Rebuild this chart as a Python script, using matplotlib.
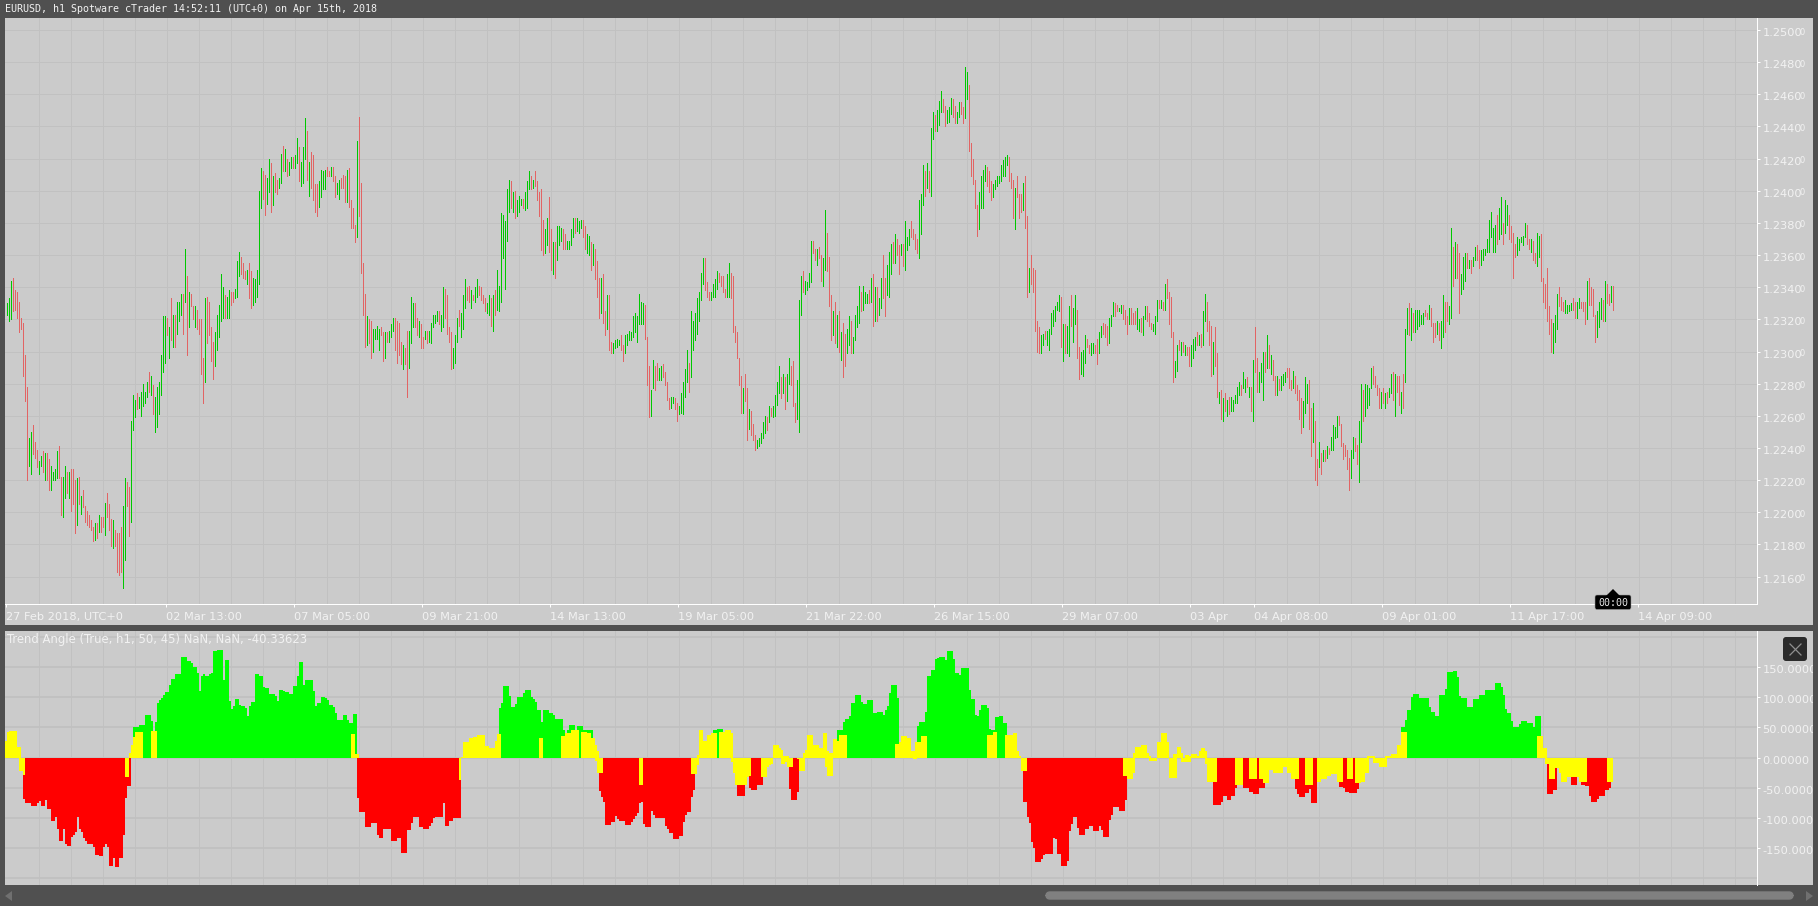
import numpy as np
import matplotlib
matplotlib.use("Agg")
import matplotlib.pyplot as plt
from matplotlib.patches import Rectangle, FancyBboxPatch, Polygon
from matplotlib.transforms import ScaledTranslation

# -------------------------
# Data
# -------------------------
# EURUSD h1 bars, highs and lows in pips above 1.2000
highs = [
    330,333,344,346,338,337,331,321,318,298, 278,246,250,254,244,239,232,235,238,237,
    237,233,229,225,227,238,241,222,222,229, 225,225,227,227,220,221,222,210,214,204,
    201,198,195,191,193,193,198,197,197,206, 212,205,196,195,189,187,187,191,204,221,
    219,216,257,273,270,274,272,275,280,275, 281,287,285,279,272,278,281,298,322,322,
    321,315,333,323,323,331,331,336,336,364, 347,337,336,328,328,326,320,320,296,333,
    334,331,315,306,312,323,329,348,340,335, 334,338,337,337,339,356,362,359,355,350,
    351,355,350,346,345,351,400,414,412,410, 408,420,417,409,411,407,408,423,428,426,
    420,418,421,421,422,433,427,418,427,445, 437,418,424,422,404,404,406,413,412,413,
    415,412,415,415,409,405,407,408,410,409, 413,414,394,389,379,431,446,405,355,336,
    322,320,319,314,314,316,314,315,312,312, 312,313,317,321,321,319,318,306,304,302,
    313,313,334,330,330,321,319,317,309,313, 313,313,318,323,323,325,325,323,340,339,
    335,315,312,302,310,321,326,324,335,345, 340,341,338,335,340,345,341,340,335,333,
    330,335,333,335,338,351,341,386,385,381, 401,407,406,399,400,394,397,395,395,399,
    406,412,409,407,412,406,399,401,382,376, 383,396,376,368,368,378,378,377,376,373,
    369,369,376,383,383,383,381,382,382,378, 373,372,368,367,364,356,346,346,348,325,
    335,335,306,305,307,308,307,310,304,310, 311,313,312,322,324,322,336,331,330,329,
    309,291,276,295,291,293,290,291,292,287, 281,271,272,272,271,268,266,274,281,289,
    301,293,325,319,324,333,337,349,358,358, 343,337,337,342,345,350,349,347,347,339,
    348,355,349,347,316,312,296,285,277,286, 277,264,263,255,248,245,246,249,256,260,
    259,266,265,266,273,281,291,284,286,284, 286,296,291,294,268,282,332,347,350,344,
    343,349,369,369,364,364,365,360,358,388, 374,359,335,325,331,323,325,312,318,311,
    314,322,319,309,323,328,341,337,341,337, 336,338,346,348,340,340,333,346,360,346,
    354,362,367,368,373,370,366,367,367,381, 371,376,381,376,373,370,394,398,416,412,
    417,412,439,449,447,450,456,462,457,453, 450,452,458,457,453,449,455,455,452,477,
    474,466,430,420,407,391,399,409,413,416, 415,412,406,404,407,409,409,416,419,421,
    422,421,411,407,402,409,398,398,405,409, 384,352,360,352,351,319,315,310,311,313,
    313,314,324,326,328,331,335,334,317,317, 316,328,335,327,335,326,303,300,301,310,
    308,304,305,305,304,308,312,316,318,317, 316,321,323,331,330,329,327,329,329,326,
    322,327,327,324,325,327,320,321,322,328, 328,324,318,317,322,332,332,332,331,342,
    345,337,334,312,294,304,307,306,306,304, 303,303,304,308,309,312,310,311,325,336,
    331,319,316,306,315,299,275,276,271,274, 270,272,272,270,273,278,281,279,287,283,
    284,278,278,295,315,296,287,293,300,300, 310,304,298,295,285,285,283,285,286,287,
    290,290,282,288,285,279,276,271,269,284, 280,282,265,268,257,233,244,237,239,239,
    241,240,247,254,253,260,260,255,243,242, 239,234,239,247,246,242,257,280,276,280,
    279,277,290,291,285,279,277,275,277,274, 275,277,286,287,286,285,285,275,286,314,
    327,330,327,324,326,326,326,323,324,326, 324,329,327,318,318,319,318,319,335,331,
    331,328,377,365,368,367,361,348,359,361, 361,357,357,359,365,366,363,363,364,364,
    370,382,387,377,379,385,389,396,380,394, 391,385,378,374,367,371,370,371,372,380,
    379,370,370,369,361,374,372,373,346,342, 352,328,320,318,323,336,340,334,331,332,
    329,329,330,333,331,331,333,331,331,331, 344,346,340,339,323,325,331,333,332,344,
    342,336,341,341,
]
lows = [
    323,319,320,325,326,321,312,314,285,269, 220,229,224,236,234,228,224,229,225,220,
    220,214,214,220,220,221,221,198,197,209, 212,209,201,205,187,192,205,199,203,194,
    192,191,189,182,183,184,188,188,191,186, 197,189,179,178,179,163,161,163,153,170,
    204,185,194,251,259,264,265,260,266,268, 272,275,273,261,250,253,261,273,287,293,
    310,296,307,303,303,311,319,323,311,331, 298,315,328,320,315,314,311,286,268,281,
    305,310,294,283,291,301,309,319,321,321, 321,321,329,331,333,334,347,348,346,345,
    342,333,327,329,331,334,342,389,395,385, 392,399,387,391,399,398,402,405,412,412,
    409,410,414,414,414,417,406,403,405,420, 407,397,402,394,387,384,390,396,401,401,
    409,409,409,406,396,398,395,402,402,393, 393,390,377,377,368,371,384,349,323,303,
    304,305,296,300,308,308,301,310,294,296, 306,306,309,313,301,293,298,292,289,292,
    272,290,305,315,315,310,309,302,302,308, 305,306,305,315,318,319,317,313,315,321,
    311,306,289,290,293,306,316,309,314,327, 332,331,327,332,331,334,335,332,330,325,
    324,323,316,313,323,326,325,331,358,339, 369,387,389,387,383,384,387,391,389,388,
    389,401,401,402,403,394,384,363,360,361, 366,362,351,348,346,357,366,369,364,364,
    364,364,366,371,374,375,374,377,371,364, 361,360,351,354,345,334,321,324,318,310,
    314,301,299,299,302,303,304,301,294,299, 304,307,307,309,312,306,317,317,317,308,
    279,259,260,277,276,282,282,282,284,279, 270,264,265,268,264,257,261,262,261,272,
    281,275,284,301,307,311,319,332,342,338, 334,332,332,334,334,339,343,341,337,334,
    334,334,333,312,306,296,279,262,262,269, 245,252,248,245,239,240,241,243,246,249,
    251,256,260,259,260,267,274,271,274,264, 269,280,279,266,256,258,250,323,337,336,
    338,340,343,361,357,354,358,344,341,351, 350,328,307,310,305,303,300,295,284,291,
    299,304,299,299,307,315,318,325,326,330, 330,330,331,316,319,319,323,327,333,322,
    335,334,348,355,355,360,348,360,353,351, 363,366,371,370,364,361,358,373,391,397,
    402,399,397,432,437,437,441,449,449,440, 442,443,448,446,442,442,446,448,442,445,
    457,425,409,404,389,372,376,389,389,406, 403,399,394,396,401,403,405,406,409,409,
    416,406,402,383,376,396,383,387,388,377, 334,337,342,337,313,300,299,299,304,308,
    304,301,311,316,319,326,325,303,294,299, 299,297,316,306,317,296,283,286,285,293,
    303,299,298,299,299,292,299,309,311,309, 304,305,316,322,322,325,325,324,320,317,
    311,317,317,317,317,314,313,312,310,320, 319,316,314,313,311,319,327,327,326,326,
    333,317,309,281,284,288,301,298,300,298, 298,291,291,296,301,304,304,303,304,319,
    313,304,285,286,291,272,268,258,257,263, 260,261,263,263,268,268,273,273,277,275,
    278,272,263,257,287,275,275,281,270,287, 290,290,286,282,273,273,276,276,279,281,
    284,277,276,277,274,270,258,249,253,262, 268,252,235,244,220,217,228,224,232,232,
    234,236,239,239,246,247,254,241,233,235, 227,214,221,234,238,230,219,244,257,260,
    265,267,277,280,278,273,265,265,268,265, 268,272,274,270,260,275,267,262,265,281,
    311,310,307,312,312,314,316,317,317,322, 320,320,316,306,309,311,307,302,309,312,
    319,317,321,341,346,346,324,336,339,344, 352,352,349,353,357,357,352,354,357,360,
    362,362,371,362,362,367,370,373,367,374, 379,370,368,346,359,360,363,368,366,371,
    367,364,362,357,355,353,359,344,331,327, 319,311,300,299,306,314,328,326,325,324,
    324,325,326,326,321,321,327,327,325,317, 320,329,329,322,306,309,315,320,319,319,
    330,329,331,326,
]
# g = up bar, r = down bar, ten bars a piece
directions = (
    "gggrrrrrrr" "rggrrrggrg" "rrggggrrgg" "rgrrrgrgrr" "rrrrgrgrrg" "rrrgrrrrgg" "rrgggrgggg" "grgrgggggg"
    "rgrgrgggrg" "rgrrgrrrrg" "rrrrgggggr" "ggrrgggrrr" "grrgggggrr" "ggrgrrggrg" "rggrggrggg" "rgrrrrgggg"
    "rrgrrggrrr" "grrrrgrrrr" "grrggggrrg" "rgggrrrrgr" "rgggrrgrrg" "rgggggrggr" "rrrgggrggg" "rrgrggrrrr"
    "ggrgrggggg" "ggrgrgggrg" "ggrgrrrrrg" "grrgrgggrr" "ggggrgggrr" "ggrgrrrgrr" "grrggggrrg" "gggggggggr"
    "rrggrrggrr" "rrggrrgggg" "grgggggggr" "rrggggrrrr" "ggrrrrrrgr" "rgrrrggggg" "rgrggggrgr" "ggrrrgggrg"
    "gggrrgrrgg" "rrrgrgrgrr" "ggrggggrgg" "grgrgrggrr" "gggrgrrgrg" "ggrrrrgggr" "grggrgggrr" "gggrrggrrg"
    "grrrrrgggg" "rrrggggggg" "grrrgrrrgr" "rgrrrrrggr" "gggggggrgr" "ggrggrrggg" "rrggrrggrr" "rgggrrggrr"
    "rgrrrggrgg" "rrrgggrgrg" "rrrrggrgrg" "rrgggrgrgg" "rrrgrrgrgr" "grgggggrgg" "rgrgrrgggr" "grgrrgrggg"
    "rrrgrrrrgg" "grrgrrgrgr" "grggggrrrr" "rrggrrggrg" "gggrrrrgrg" "rggrgrrgrg" "grgrgggggr" "rgrrrgrggr"
    "rggrgrrggg" "rgrggrrggg" "gggggrggrg" "grrrrggggg" "rrgrrggrrr" "rrrgggrrrg" "gggrrggrrr" "grrrrgggrg"
    "rrgr"
)

# indicator histogram: positive is green, negative is red
trend_angle = [
    0,0,0,0,0,0,0,0,0,-68, -75,-75,-75,-81,-81,-81,-75,-72,-80,-80,
    -70,-85,-85,-105,-105,-98,-118,-138,-138,-118, -144,-146,-146,-131,-128,-124,-98,-118,-124,-133,
    -138,-144,-144,-144,-148,-162,-162,-164,-164,-149, -144,-149,-180,-180,-166,-182,-182,-166,-166,-128,
    -67,-48,-48,0,50,50,50,54,54,54, 70,70,70,60,0,59,90,95,98,103,
    108,108,120,131,131,138,138,138,166,166, 166,160,160,156,150,150,140,110,135,138,
    136,136,138,140,176,176,178,179,179,128, 161,161,93,80,85,97,97,87,85,85,
    82,69,85,92,92,138,138,135,135,117, 115,115,105,105,105,102,93,112,112,110,
    108,108,105,105,118,118,135,158,158,120, 128,128,128,128,110,85,90,90,100,100,
    98,95,87,87,84,74,62,62,62,70, 70,62,57,57,72,72,-67,-91,-91,-91,
    -116,-116,-116,-108,-108,-108,-128,-134,-134,-119, -118,-118,-118,-138,-138,-138,-133,-133,-159,-159,
    -159,-121,-121,-109,-98,-98,-98,-116,-116,-118, -118,-118,-113,-109,-100,-98,-98,-98,-98,-76,
    -114,-114,-105,-105,-101,-101,-101,-101,0,0, 0,0,0,0,0,0,0,0,0,0,
    0,0,0,0,0,0,0,82,91,119, 119,119,102,84,84,89,101,101,101,107,
    112,112,112,101,97,92,79,79,59,78, 78,78,74,74,71,64,64,64,64,46,
    0,46,54,54,54,45,53,53,53,46, 46,46,46,46,0,0,0,-56,-66,-73,
    -112,-112,-112,-107,-107,-97,-102,-106,-106,-106, -112,-112,-112,-107,-102,-97,-92,-76,-74,-111,
    -116,-116,-116,-89,-96,-101,-101,-101,-101,-101, -114,-119,-125,-125,-135,-135,-135,-130,-130,-107,
    -96,-91,-91,-66,-54,0,0,0,0,0, 0,0,0,0,46,46,48,48,48,0,
    0,0,0,0,0,0,-63,-63,-63,-63, 0,0,-51,-54,-54,-54,-46,-46,-46,0,
    0,0,0,0,0,0,0,0,0,0, 0,0,-53,-71,-71,-71,-58,0,0,0,
    0,0,0,0,0,0,0,0,0,0, 0,0,0,0,0,0,45,45,45,59,
    64,64,69,91,91,104,104,104,92,89, 89,96,96,96,74,74,76,76,76,71,
    79,86,107,120,120,120,99,0,0,0, 0,0,0,0,0,0,53,59,59,59,
    76,135,135,145,145,163,165,167,167,167, 162,177,177,177,163,140,140,137,149,149,
    149,149,112,97,97,71,69,79,87,87, 87,82,48,46,46,68,68,69,69,58,
    58,0,0,0,0,0,0,0,0,-73, -73,-99,-109,-140,-150,-173,-173,-173,-168,-162,
    -160,-160,-160,-160,-134,-135,-160,-160,-180,-180, -180,-172,-122,-111,-99,-99,-117,-129,-129,-129,
    -119,-119,-114,-114,-122,-122,-122,-114,-120,-132, -132,-132,-104,-96,-82,-82,-82,-89,-89,-89,
    -71,0,0,0,0,0,0,0,0,0, 0,0,0,0,0,0,0,0,0,0,
    0,0,0,0,0,0,0,0,0,0, 0,0,0,0,0,0,0,0,0,0,
    0,0,0,0,-78,-78,-78,-78,-74,-64, -64,-71,-71,-63,-63,-50,-46,-46,-40,-51,
    -51,-51,-58,-58,-61,-61,-61,-51,-51,-51, 0,0,0,0,0,0,0,0,0,0,
    0,0,0,0,0,-53,-60,-66,-66,-66, -59,-59,-52,-76,-76,-76,0,0,0,0,
    0,0,0,0,0,0,0,-49,-49,-51, -58,-58,-59,-59,-59,-59,-52,0,0,0,
    0,0,0,0,0,0,0,0,0,0, 0,0,0,0,0,0,0,0,50,50,
    63,79,79,101,106,106,106,99,99,99, 99,99,83,76,76,69,69,104,104,104,
    114,142,142,142,144,144,134,102,99,99, 99,84,83,83,97,97,97,104,104,104,
    112,112,112,112,112,124,124,124,117,104, 81,73,73,61,51,51,51,56,61,61,
    61,58,58,58,51,69,69,69,0,0, 0,-61,-61,-61,-54,-54,0,0,0,0,
    0,0,0,-45,-45,-45,0,0,-46,-46, -48,-48,-63,-74,-74,-74,-68,-63,-63,-63,
    -54,-54,-50,0,
]

# yellow bars sit on top, bar number: value
yellow_up = {
    0:27,1:42,2:44,3:44,4:44,5:44,6:18,7:18,62:8,63:21,64:34,65:42,66:42,67:42,68:42,73:44,74:44,75:44,
    173:39,174:39,175:6,176:6,228:1,229:26,230:26,231:26,232:32,233:32,234:34,235:34,236:37,237:37,238:37,239:37,
    240:19,241:19,242:16,243:16,244:16,245:27,246:39,247:39,267:33,268:33,278:35,279:35,280:40,281:40,282:40,
    283:45,284:45,285:45,286:45,288:43,289:43,290:43,291:41,292:41,293:33,294:33,295:21,296:10,
    346:5,347:45,348:45,349:28,350:28,351:38,352:38,353:41,354:41,355:41,357:43,358:43,359:43,360:45,361:45,362:45,363:40,
    384:20,385:20,386:20,387:15,388:13,389:3,390:3,391:3,399:8,400:13,401:38,402:38,403:38,404:20,405:20,406:20,407:16,408:16,
    409:41,410:41,411:11,412:8,413:8,414:30,415:30,416:28,417:38,418:38,419:38,420:38,
    445:23,446:23,447:25,448:35,449:35,450:35,451:33,452:33,453:10,454:10,455:26,456:26,457:26,458:35,459:35,460:35,
    491:38,492:38,493:38,494:43,495:43,500:38,501:38,502:38,503:38,504:40,505:40,506:10,507:2,
    564:8,565:18,566:18,567:18,568:20,569:20,570:20,571:7,572:2,576:26,577:26,578:40,579:40,580:40,581:26,584:6,585:6,586:18,587:18,
    588:8,590:4,591:4,592:3,593:6,594:6,595:6,596:2,597:10,598:15,599:15,600:10,
    681:2,682:2,683:2,684:2,690:3,691:3,692:3,693:6,694:6,695:6,696:20,697:20,698:43,699:43,700:43,
    766:35,767:35,768:35,769:15,770:15,
}
yellow_dn = {
    7:-22,8:-22,9:-29,60:-32,61:-32,227:-37,295:-5,296:-26,297:-26,298:-26,317:-45,318:-45,343:-28,344:-28,345:-28,346:-12,
    363:-8,364:-25,365:-45,366:-45,367:-45,368:-45,369:-45,370:-45,371:-33,372:-31,378:-33,379:-33,380:-33,381:-16,382:-12,383:-10,
    388:-10,389:-10,390:-8,391:-16,392:-16,393:-16,396:-3,397:-23,398:-23,399:-23,410:-16,411:-31,412:-31,413:-31,454:-2,455:-2,
    508:-23,509:-23,510:-23,559:-30,560:-30,561:-35,562:-35,563:-35,564:-25,572:-6,573:-6,574:-6,575:-6,
    582:-34,583:-34,584:-34,585:-34,588:-8,589:-8,590:-8,591:-8,592:-8,600:-10,601:-40,602:-40,603:-40,604:-40,605:-40,
    615:-45,616:-45,617:-45,618:-45,622:-35,623:-35,624:-35,625:-35,627:-35,628:-35,629:-43,630:-43,631:-43,632:-21,633:-21,
    634:-25,635:-25,636:-26,637:-26,638:-26,639:-16,640:-16,641:-26,642:-26,643:-35,644:-35,645:-35,646:-35,
    650:-45,651:-45,652:-45,653:-45,656:-41,657:-41,658:-35,659:-35,660:-35,661:-30,662:-30,663:-27,664:-27,665:-27,
    666:-41,667:-41,668:-41,671:-35,672:-35,673:-35,675:-43,676:-43,677:-43,678:-40,679:-40,680:-26,681:-26,
    684:-9,685:-9,686:-9,687:-15,688:-15,689:-16,690:-16,770:-10,771:-10,772:-36,773:-36,774:-36,775:-18,776:-18,777:-25,
    778:-40,779:-40,780:-40,781:-33,782:-33,783:-33,784:-33,785:-33,786:-33,787:-40,788:-40,789:-40,790:-40,801:-40,802:-40,803:-40,
}

date_ticks = [0, 80, 144, 208, 272, 336, 400, 464, 528, 592, 624, 688, 752, 816]
date_labels = ["27 Feb 2018, UTC+0", "02 Mar 13:00", "07 Mar 05:00", "09 Mar 21:00", "14 Mar 13:00",
               "19 Mar 05:00", "21 Mar 22:00", "26 Mar 15:00", "29 Mar 07:00", "03 Apr", "04 Apr 08:00",
               "09 Apr 01:00", "11 Apr 17:00", "14 Apr 09:00"]
price_ticks = [1.25 - 0.002 * k for k in range(18)]
angle_ticks = [150, 100, 50, 0, -50, -100, -150]
angle_labels = ["150.00000", "100.00000", "50.00000", "0.00000", "-50.00000", "-100.00000", "-150.00000"]

# -------------------------
# Colours
# -------------------------
DARK = "#505050"
PANEL = "#cbcbcb"
GRID = "#c1c1c1"
TEXT = "#f2f2f2"
UP = "#00c800"
DOWN = "#e26464"
LW = 0.72   # one pixel at dpi 100

W, H = 1818, 906


def add_panel(left, top, right, bottom):
    return fig.add_axes([left / W, 1 - bottom / H, (right - left) / W, (bottom - top) / H])


fig = plt.figure(figsize=(W / 100, H / 100), dpi=100, facecolor=DARK)
label_shift = ScaledTranslation(0, -2 / 100, fig.dpi_scale_trans)   # labels sit 2px under their gridline

# window frame behind the charts
back = fig.add_axes([0, 0, 1, 1], zorder=0)
back.set_xlim(0, W)
back.set_ylim(H, 0)
back.axis("off")
back.add_patch(Rectangle((5, 18), 1808, 607, color=PANEL, lw=0))
back.add_patch(Rectangle((5, 631), 1808, 254, color=PANEL, lw=0))
back.text(5, 9, "EURUSD, h1 Spotware cTrader 14:52:11 (UTC+0) on Apr 15th, 2018", color=TEXT,
          family="DejaVu Sans Mono", fontsize=7.2, va="center", ha="left")

xs = np.arange(len(highs))
vgrid = np.arange(16, 876, 16)

# -------------------------
# Price panel
# -------------------------
ax = add_panel(5, 18, 1757, 604)
ax.set_zorder(1)
ax.patch.set_alpha(0)
ax.set_xlim(-0.5, 875.5)
ax.set_ylim(1.2 + 142.9 / 1e4, 1.2 + 507.5 / 1e4)

hi = 1.2 + np.array(highs) / 1e4
lo = 1.2 + np.array(lows) / 1e4
colors = [UP if d == "g" else DOWN for d in directions]
ax.vlines(xs + 0.25, lo, hi, colors=colors, linewidth=LW, antialiased=False, zorder=3)

ax.vlines(vgrid + 0.25, *ax.get_ylim(), color=GRID, linewidth=LW, antialiased=False, zorder=1)
for p in price_ticks:
    ax.axhline(p, color=GRID, linewidth=LW, antialiased=False, zorder=1)

for s in ["top", "left"]:
    ax.spines[s].set_visible(False)
for s in ["right", "bottom"]:
    ax.spines[s].set_color("white")
    ax.spines[s].set_linewidth(LW)
ax.yaxis.tick_right()
ax.set_yticks(price_ticks)
ax.set_yticklabels([f"{p:.4f}" for p in price_ticks], fontsize=8.2, color=TEXT)
ax.set_xticks(date_ticks)
ax.set_xticklabels(date_labels, fontsize=8.2, color=TEXT, ha="left")
ax.tick_params(axis="y", colors="white", labelcolor=TEXT, length=2.5, width=LW, pad=1.5)
ax.tick_params(axis="x", colors="white", labelcolor=TEXT, length=2.5, width=LW, pad=3)
for tick in ax.yaxis.get_major_ticks():
    tick.label2.set_transform(tick.label2.get_transform() + label_shift)
for p in price_ticks:
    ax.annotate("0", xy=(1, p), xycoords=("axes fraction", "data"), xytext=(43, -2),
                textcoords="offset pixels", fontsize=6, color=TEXT, va="center", ha="left",
                annotation_clip=False)

# -------------------------
# Trend Angle panel
# -------------------------
ax2 = add_panel(5, 631, 1757, 885)
ax2.set_zorder(1)
ax2.patch.set_alpha(0)
ax2.set_xlim(-0.5, 875.5)
ax2.set_ylim(-211.4, 209.8)

angle = np.array(trend_angle)
bar_colors = ["#00ff00" if v > 0 else "#ff0000" for v in angle]
ax2.bar(xs, angle, width=1.0, color=bar_colors, linewidth=0, antialiased=False, zorder=3)
ax2.bar(list(yellow_up), list(yellow_up.values()), width=1.0, color="#ffff00", linewidth=0, antialiased=False, zorder=4)
ax2.bar(list(yellow_dn), list(yellow_dn.values()), width=1.0, color="#ffff00", linewidth=0, antialiased=False, zorder=4)

ax2.vlines(vgrid + 0.25, *ax2.get_ylim(), color=GRID, linewidth=LW, antialiased=False, zorder=1)
for v in angle_ticks + [200, -200]:
    ax2.axhline(v, color="#c0c0c0", linewidth=1.3, zorder=1)

for s in ["top", "left", "bottom"]:
    ax2.spines[s].set_visible(False)
ax2.spines["right"].set_color("white")
ax2.spines["right"].set_linewidth(LW)
ax2.yaxis.tick_right()
ax2.set_yticks(angle_ticks)
ax2.set_yticklabels(angle_labels, fontsize=8.2, color=TEXT)
ax2.set_xticks([])
ax2.tick_params(axis="y", colors="white", labelcolor=TEXT, length=2.5, width=LW, pad=1.5)
for tick in ax2.yaxis.get_major_ticks():
    tick.label2.set_transform(tick.label2.get_transform() + label_shift)
ax2.text(0.0012, 0.9685, "Trend Angle (True, h1, 50, 45) NaN, NaN, -40.33623", transform=ax2.transAxes,
         color=TEXT, fontsize=8.4, va="center", ha="left")

# -------------------------
# Things on top: scrollbar, close button, time tag, right edge
# -------------------------
front = fig.add_axes([0, 0, 1, 1], zorder=5)
front.set_xlim(0, W)
front.set_ylim(H, 0)
front.axis("off")
front.add_patch(Rectangle((1813, 0), 5, H, color=DARK, lw=0))
front.add_patch(FancyBboxPatch((1046, 892), 747, 7, boxstyle="round,pad=0,rounding_size=4",
                               mutation_aspect=1, fc="#808080", ec="#808080", lw=1))
front.add_patch(Polygon([[12, 891], [12, 901], [5, 896]], color="#707070", lw=0))
front.add_patch(Polygon([[1806, 891], [1806, 901], [1813, 896]], color="#707070", lw=0))
front.add_patch(FancyBboxPatch((1785, 639), 20, 20, boxstyle="round,pad=2,rounding_size=3",
                               fc="#2b2b2b", ec="#2b2b2b", lw=0))
front.plot([1790, 1801], [644, 655], color="#909090", lw=0.9)
front.plot([1790, 1801], [655, 644], color="#909090", lw=0.9)
front.add_patch(FancyBboxPatch((1596, 596), 34, 12.5, boxstyle="round,pad=1,rounding_size=2",
                               fc="black", ec="#9a9a9a", lw=0.4))
front.add_patch(Polygon([[1606, 596], [1613, 589], [1620, 596]], color="black", lw=0))
front.text(1613, 602.5, "00:00", color="#e8e8e8", family="DejaVu Sans Mono", fontsize=7.2, ha="center", va="center")

fig.savefig("out.png", dpi=100, facecolor=DARK)
